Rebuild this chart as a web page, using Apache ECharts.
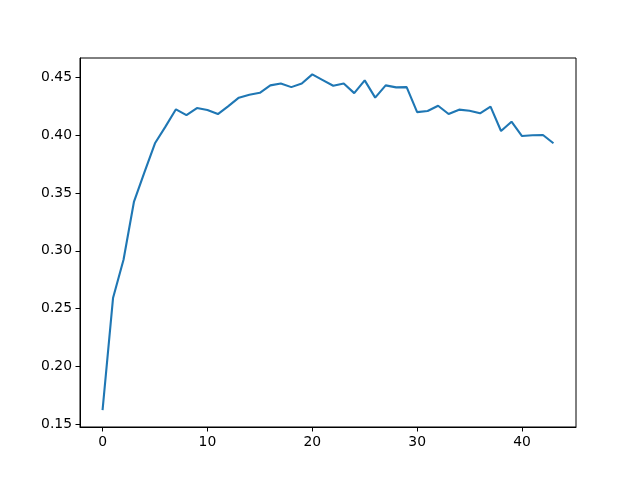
<!DOCTYPE html>
<html>
<head>
<meta charset="utf-8">
<script src="https://cdn.jsdelivr.net/npm/echarts@6/dist/echarts.min.js"></script>
<style>html,body{margin:0;padding:0;background:#fff}#c{width:640px;height:480px}</style>
</head>
<body>
<div id="c"></div>
<script>
const xValues = [0,1,2,3,4,5,6,7,8,9,10,11,12,13,14,15,16,17,18,19,20,21,22,23,24,25,26,27,28,29,30,31,32,33,34,35,36,37,38,39,40,41,42,43];
const yValues = [0.1621,0.2591,0.2922,0.3426,0.3680,0.3930,0.4074,0.4224,0.4174,0.4235,0.4218,0.4183,0.4252,0.4325,0.4350,0.4367,0.4431,0.4448,0.4416,0.4448,0.4526,0.4477,0.4428,0.4448,0.4364,0.4474,0.4325,0.4431,0.4414,0.4416,0.4200,0.4209,0.4255,0.4183,0.4221,0.4212,0.4189,0.4247,0.4036,0.4117,0.3993,0.3999,0.4002,0.3930];
const xTicks = [0,10,20,30,40];
const yTicks = [0.15,0.20,0.25,0.30,0.35,0.40,0.45];

const chart = echarts.init(document.getElementById('c'), null, {renderer:'canvas'});
const font = {fontFamily:'DejaVu Sans', fontSize:13.9, color:'#000'};
chart.setOption({
  animation:false,
  backgroundColor:'#fff',
  grid:{left:80, right:64, top:58, bottom:53, show:true, borderColor:'#000', borderWidth:1, backgroundColor:'transparent'},
  xAxis:{
    type:'value', min:-2.15, max:45.15,
    axisLine:{show:true, onZero:false, lineStyle:{color:'#000', width:1}},
    axisTick:{show:true, length:4.5, inside:false, customValues:xTicks, lineStyle:{color:'#000', width:1}},
    axisLabel:Object.assign({customValues:xTicks, margin:8, formatter:v=>String(Math.round(v))}, font),
    splitLine:{show:false}
  },
  yAxis:{
    type:'value', min:0.1475, max:0.4668,
    axisLine:{show:true, onZero:false, lineStyle:{color:'#000', width:1}},
    axisTick:{show:true, length:4.5, inside:false, customValues:yTicks, lineStyle:{color:'#000', width:1}},
    axisLabel:Object.assign({customValues:yTicks, margin:8, formatter:v=>v.toFixed(2)}, font),
    splitLine:{show:false}
  },
  series:[{
    type:'line',
    data:xValues.map((x,i)=>[x,yValues[i]]),
    showSymbol:false,
    symbol:'none',
    lineStyle:{color:'#1f77b4', width:2.1},
    itemStyle:{color:'#1f77b4'}
  }]
});
</script>
</body>
</html>
